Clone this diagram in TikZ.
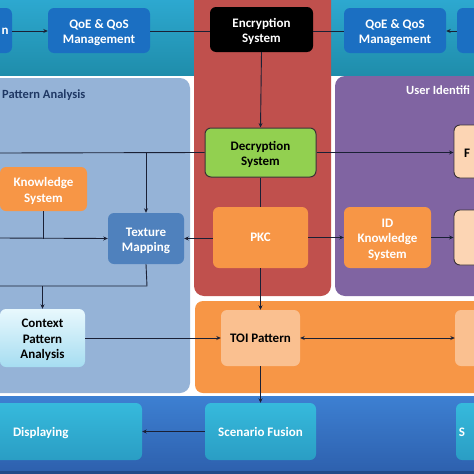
\documentclass[tikz,border=0pt]{standalone}
\usepackage{fontspec}
\setmainfont{Carlito}
\usetikzlibrary{arrows.meta}
\definecolor{topA}{HTML}{2EAAD2}
\definecolor{topB}{HTML}{1F8DAB}
\definecolor{qblue}{HTML}{1B6FC2}
\definecolor{redp}{HTML}{C0504D}
\definecolor{patp}{HTML}{95B3D7}
\definecolor{purp}{HTML}{8064A2}
\definecolor{orap}{HTML}{F79646}
\definecolor{peach}{HTML}{FAC090}
\definecolor{lpeach}{HTML}{FCD5B4}
\definecolor{texb}{HTML}{4F81BD}
\definecolor{botA}{HTML}{3D80D2}
\definecolor{botB}{HTML}{2C5DAA}
\definecolor{tealA}{HTML}{36BADC}
\definecolor{tealB}{HTML}{2A9DC4}
\definecolor{ctxA}{HTML}{E8F8FD}
\definecolor{ctxB}{HTML}{A6DDF1}
\definecolor{grn}{HTML}{92D050}
\definecolor{lnc}{HTML}{1A2035}
\definecolor{navy}{HTML}{1F3864}
\newcommand{\mystrut}{\rule{0pt}{13pt}}
\tikzset{
 base/.style={rounded corners=6pt, inner sep=0pt, align=center, font=\fontsize{13}{15.5}\selectfont\bfseries},
 bluebox/.style={base, fill=qblue, text=white},
 blackbox/.style={base, fill=black, text=white},
 greenbox/.style={base, fill=grn, draw=lnc!80!brown, line width=1pt, text=black},
 orangebox/.style={base, fill=orap, text=white},
 peachbox/.style={base, fill=peach, text=black},
 lpeachbox/.style={base, fill=lpeach, draw=lnc!80!brown, line width=0.9pt, text=black},
 texbox/.style={base, fill=texb, text=white},
 ctxbox/.style={base, top color=ctxA, bottom color=ctxB, text=black},
 tealbox/.style={base, top color=tealA, bottom color=tealB, text=white},
 paneltext/.style={inner sep=0pt, anchor=west, font=\fontsize{12.5}{14}\selectfont\bfseries},
 conn/.style={draw=lnc, line width=0.9pt},
 arr/.style={conn, -{Stealth[length=4.5pt,width=4pt]}},
 dbl/.style={conn, {Stealth[length=4.5pt,width=4pt]}-{Stealth[length=4.5pt,width=4pt]}},
}
\begin{document}
\begin{tikzpicture}[x=1pt,y=-1pt]
\useasboundingbox (0,0) rectangle (474,474);
\begin{scope}
\clip (0,0) rectangle (474,474);
\fill[white] (0,0) rectangle (474,474);
% panels
\shade[top color=topA, bottom color=topB] (-5,-5) rectangle (480,75);
\fill[redp, rounded corners=10pt] (194,-20) rectangle (331,296);
\fill[patp, rounded corners=10pt] (-20,78) rectangle (190,393);
\fill[purp, rounded corners=10pt] (335,76) rectangle (500,296);
\fill[orap, rounded corners=8pt] (195,301) rectangle (500,393);
\shade[top color=botA, bottom color=botB] (-5,396) rectangle (480,480);
\fill[botB!80!black] (-5,471) rectangle (480,480);

\node[paneltext, text=navy] (patlbl) at (2,95) {Pattern Analysis};
\node[paneltext, text=white] (uslbl) at (406,90) {User Identifi};

% top row
\node[bluebox, minimum width=52pt, minimum height=45pt] (lcut) at (-14,30.5) {};
\node[inner sep=0pt, text=white, font=\fontsize{13}{15.5}\selectfont\bfseries] (ltxt) at (5,31) {n};
\node[bluebox, minimum width=102pt, minimum height=45pt] (qoe1) at (99,30.5) {\mystrut QoE \& QoS\\Management};
\node[blackbox, minimum width=103pt, minimum height=45pt] (enc) at (261.5,29.5) {\mystrut Encryption\\System};
\node[bluebox, minimum width=102pt, minimum height=45pt] (qoe2) at (395,30.5) {\mystrut QoE \& QoS\\Management};
\node[bluebox, minimum width=62pt, minimum height=45pt] (rcut) at (488,30.5) {};

% middle
\node[greenbox, minimum width=111pt, minimum height=49pt] (dec) at (260.5,152.5) {\mystrut Decryption\\System};
\node[lpeachbox, minimum width=66pt, minimum height=53pt] (fbox) at (487,151.5) {};
\node[inner sep=0pt, text=black, font=\fontsize{13}{15.5}\selectfont\bfseries] (ftxt) at (467,153) {F};
\node[lpeachbox, minimum width=66pt, minimum height=55pt] (gbox) at (487,237.5) {};
\node[orangebox, minimum width=87pt, minimum height=44pt] (know) at (43.5,189) {\mystrut Knowledge\\System};
\node[texbox, minimum width=76pt, minimum height=51pt] (tex) at (146,238.5) {\mystrut Texture\\Mapping};
\node[orangebox, minimum width=95pt, minimum height=61pt] (pkc) at (260.5,237.5) {PKC};
\node[orangebox, minimum width=87pt, minimum height=61pt] (idk) at (387.5,237.5) {\mystrut ID\\Knowledge\\System};
\node[ctxbox, minimum width=85pt, minimum height=58pt] (ctx) at (42.5,338) {\mystrut Context\\Pattern\\Analysis};
\node[peachbox, minimum width=79pt, minimum height=56pt] (toi) at (260.5,338) {TOI Pattern};
\node[peachbox, minimum width=65pt, minimum height=56pt] (trbox) at (487.5,338) {};

% bottom
\node[tealbox, minimum width=152pt, minimum height=57pt, text width=106pt, align=left] (disp) at (66,431.5) {\mystrut Displaying};
\node[tealbox, minimum width=111pt, minimum height=57pt] (scn) at (260.5,431.5) {Scenario Fusion};
\node[tealbox, minimum width=64pt, minimum height=57pt] (rs) at (488,431.5) {};
\node[inner sep=0pt, text=white, font=\fontsize{13}{15.5}\selectfont\bfseries] (stxt) at (462,432) {S};

% coordinates
\coordinate (l1) at (0,153);
\coordinate (l2) at (0,238);
\coordinate (l3) at (0,286);
\coordinate (j1) at (tex.north |- dec.west);
\coordinate (j2) at (know.south |- tex.west);
\coordinate (j3) at (147,286);
\coordinate (j4) at (ctx.north |- j3);

% connectors
\draw[arr] (lcut.east |- 0,31) -- (qoe1.west |- 0,31);
\draw[conn] (qoe1.east |- 0,31) -- (enc.west |- 0,31);
\draw[conn] (enc.east |- 0,31) -- (qoe2.west |- 0,31);
\draw[arr] (rcut.west |- 0,31) -- (qoe2.east |- 0,31);
\draw[arr] (enc.south) -- (dec.north);
\draw[conn] (dec.west) -- (l1);
\draw[arr] (j1) -- (tex.north);
\draw[arr] (dec.east) -- (fbox.west |- dec.east);
\draw[conn] (dec.south) -- (pkc.north);
\draw[arr] (l2) -- (tex.west);
\draw[conn] (know.south) -- (j2);
\draw[arr] (pkc.west |- tex.east) -- (tex.east);
\draw[arr] (pkc.east) -- (idk.west);
\draw[arr] (idk.east) -- (gbox.west);
\draw[conn] (tex.south) -- (j3) -- (l3);
\draw[arr] (j4) -- (ctx.north);
\draw[arr] (ctx.east) -- (toi.west);
\draw[arr] (pkc.south) -- (toi.north);
\draw[dbl] (toi.east) -- (trbox.west);
\draw[arr] (toi.south) -- (scn.north);
\draw[arr] (scn.west) -- (disp.east);
\end{scope}
\end{tikzpicture}
\end{document}
